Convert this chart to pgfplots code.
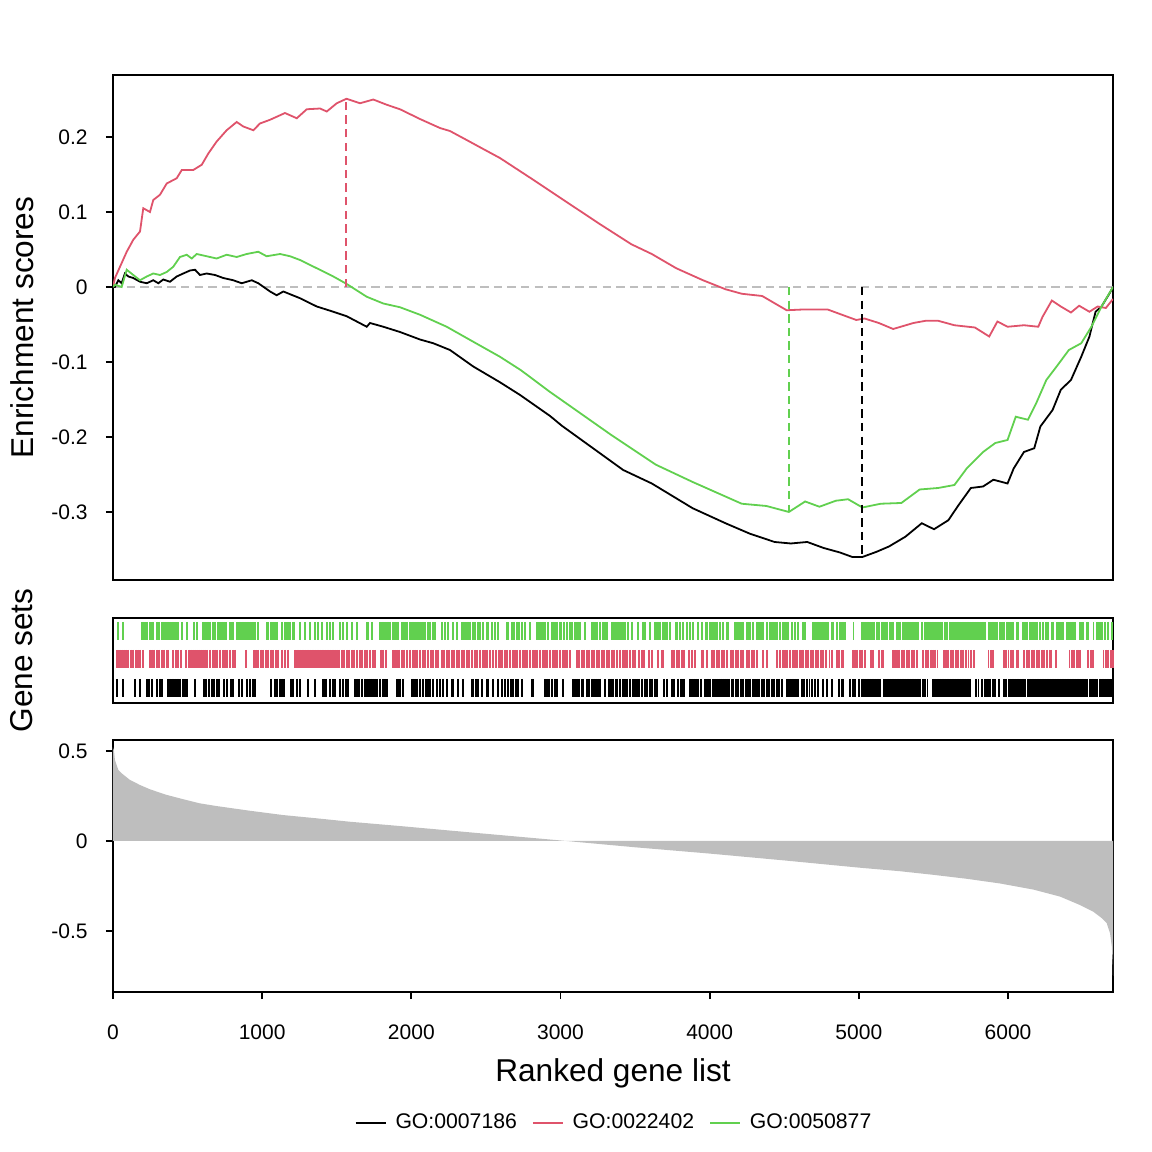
\documentclass[border=0pt]{standalone}
\usepackage{pgfplots}
\pgfplotsset{compat=1.18}
\usepackage{pgfplotstable}
\usepackage{fontspec}
\setmainfont{Liberation Sans}
\definecolor{esred}{HTML}{DF536B}
\definecolor{esgreen}{HTML}{61D04F}
\definecolor{rgrey}{HTML}{BEBEBE}

\newcommand{\ticksize}{\fontsize{10.5bp}{12bp}\selectfont}
\newcommand{\labsize}{\fontsize{15.8bp}{18bp}\selectfont}

\pgfplotsset{
  gsea/.style={
    scale only axis, width=500bp, anchor=south west,
    xmin=0, xmax=6704,
    axis line style={line width=0.85bp},
    tick align=outside, major tick length=3.6bp,
    every tick/.style={black, line width=0.85bp},
    tick pos=left,
    tick label style={font=\ticksize, inner sep=0pt},
    yticklabel style={xshift=-8.9bp},
    xticklabel style={yshift=-12.4bp},
    every axis y label/.style={at={(axis description cs:-0.091,0.5)},
      rotate=90, anchor=center, font=\labsize},
    every axis x label/.style={at={(axis description cs:0.5,0)},
      anchor=north, yshift=-33bp, inner sep=0pt, font=\labsize},
  },
  esline/.style={line width=0.9bp},
  vdash/.style={line width=1bp, dash pattern=on 4.2bp off 2.6bp},
  hits/.style={only marks, mark=|, mark size=4.6bp,
    mark options={line width=0.95bp}},
}

% gene positions (rank) of each set in the ranked list
\pgfplotstableread[row sep=\\]{r\\
36\\65\\192\\199\\215\\226\\248\\259\\271\\297\\311\\326\\338\\349\\360\\371\\382\\393\\405\\416\\427\\438\\460\\494\\498\\543\\561\\601\\617\\628\\639\\650\\668\\684\\706\\717\\729\\744\\758\\784\\796\\807\\829\\847\\852\\863\\874\\885\\896\\907\\919\\930\\941\\952\\974\\
1030\\1042\\1057\\1071\\1086\\1097\\1131\\1153\\1164\\1176\\1187\\1205\\1214\\1254\\1287\\1321\\1354\\1377\\1399\\1433\\1455\\1477\\1522\\1544\\1567\\1600\\1634\\1701\\1712\\1734\\1790\\1801\\1812\\1824\\1835\\1846\\1857\\1875\\1891\\1902\\1913\\1935\\1947\\1958\\1969\\1991\\
2002\\2014\\2025\\2036\\2047\\2058\\2069\\2081\\2092\\2114\\2125\\2148\\2159\\2204\\2226\\2248\\2282\\2304\\2338\\2349\\2360\\2371\\2382\\2394\\2416\\2427\\2449\\2461\\2483\\2505\\2516\\2539\\2561\\2583\\
2639\\2650\\2672\\2688\\2706\\2724\\2739\\2762\\2795\\2840\\2851\\2862\\2873\\2885\\2896\\2918\\2940\\2952\\2963\\2974\\2996\\3007\\3023\\3041\\3063\\3075\\3097\\3108\\3119\\3130\\3164\\3209\\3220\\3231\\3242\\3264\\3287\\3298\\3309\\3343\\3354\\3365\\3376\\3387\\3399\\3410\\3421\\3432\\3454\\3477\\3521\\3555\\3566\\3600\\3633\\3644\\3656\\3667\\3689\\3700\\3711\\3734\\3774\\3783\\3801\\3823\\3845\\3868\\3890\\3924\\3946\\3975\\3984\\
4002\\4013\\4024\\4035\\4047\\4069\\4091\\4114\\4125\\4169\\4181\\4192\\4203\\4214\\4225\\4248\\4259\\4270\\4292\\4315\\4326\\4337\\4348\\4359\\4382\\4404\\4415\\4426\\4438\\4449\\4471\\4494\\4505\\4516\\4527\\4549\\4572\\4594\\
4628\\4640\\4695\\4707\\4718\\4729\\4740\\4751\\4762\\4774\\4785\\4796\\4818\\4829\\4852\\4874\\4885\\4897\\4908\\4964\\5019\\5031\\5042\\5053\\5064\\5075\\5086\\5102\\5120\\5138\\5153\\5165\\5176\\5187\\5209\\5221\\5232\\5254\\5265\\5276\\5299\\5310\\5321\\5332\\5343\\5355\\5366\\5377\\5388\\5399\\5422\\5444\\5455\\5466\\5478\\5489\\5500\\5511\\5522\\5533\\5545\\5556\\5578\\5589\\5612\\5623\\5634\\5645\\5656\\5667\\5679\\5690\\5701\\5712\\5723\\5735\\5746\\5757\\5768\\5779\\5790\\5802\\5813\\5824\\5835\\5846\\5869\\5880\\5891\\5902\\5913\\5924\\5947\\5958\\5974\\5991\\
6003\\6014\\6025\\6036\\6059\\6070\\6103\\6114\\6126\\6148\\6159\\6170\\6181\\6193\\6215\\6237\\6255\\6271\\6293\\6304\\6327\\6338\\6349\\6360\\6371\\6394\\6405\\6416\\6427\\6438\\6450\\6483\\6494\\6506\\6528\\6539\\6573\\6595\\6606\\6617\\6628\\6651\\6673\\6695\\
}\greenhits

\pgfplotstableread[row sep=\\]{r\\
25\\36\\47\\58\\74\\87\\103\\119\\136\\154\\170\\181\\199\\248\\259\\275\\293\\311\\326\\342\\360\\371\\400\\423\\438\\454\\490\\512\\521\\534\\550\\561\\574\\588\\601\\617\\633\\650\\668\\684\\700\\717\\735\\751\\767\\784\\802\\818\\890\\945\\959\\974\\990\\
1008\\1026\\1042\\1057\\1075\\1093\\1109\\1131\\1153\\1176\\1220\\1231\\1243\\1254\\1265\\1276\\1287\\1298\\1310\\1321\\1332\\1343\\1354\\1366\\1377\\1388\\1399\\1410\\1421\\1433\\1444\\1455\\1466\\1477\\1488\\1500\\1518\\1533\\1549\\1567\\1585\\1600\\1616\\1634\\1656\\1672\\1690\\1705\\1723\\1741\\1757\\1795\\1812\\1830\\1875\\1891\\1902\\1920\\1935\\1951\\1969\\1991\\
2009\\2025\\2040\\2058\\2076\\2092\\2114\\2130\\2148\\2166\\2181\\2204\\2219\\2237\\2255\\2271\\2286\\2304\\2322\\2338\\2353\\2371\\2389\\2405\\2427\\2443\\2461\\2478\\2494\\2510\\2528\\2550\\2568\\2586\\
2594\\2610\\2628\\2643\\2661\\2679\\2695\\2710\\2728\\2746\\2762\\2777\\2795\\2813\\2829\\2844\\2862\\2880\\2896\\2911\\2929\\2947\\2963\\2978\\2996\\3014\\3030\\3045\\3063\\3112\\3126\\3142\\3157\\3175\\3193\\3209\\3224\\3242\\3260\\3276\\3291\\3309\\3327\\3343\\3358\\3376\\3399\\3416\\3432\\3448\\3466\\3483\\3499\\3528\\3544\\3559\\3595\\3611\\3656\\3678\\3689\\3745\\3761\\3778\\3796\\3812\\3828\\3863\\3879\\3901\\3946\\3957\\3980\\
4013\\4029\\4047\\4064\\4080\\4096\\4114\\4140\\4158\\4176\\4192\\4208\\4225\\4248\\4266\\4281\\4297\\4315\\4355\\4382\\4453\\4471\\4489\\4505\\4520\\4538\\4556\\4572\\4587\\4605\\
4617\\4628\\4646\\4662\\4678\\4695\\4713\\4729\\4745\\4762\\4780\\4803\\4818\\4856\\4870\\4885\\4897\\4959\\4975\\4990\\5008\\5019\\5042\\5080\\5093\\5138\\5153\\5165\\5227\\5243\\5254\\5272\\5288\\5303\\5321\\5339\\5355\\5370\\5388\\5433\\5451\\5466\\5482\\5495\\5511\\5527\\5571\\5585\\5600\\5616\\5634\\5652\\5667\\5683\\5701\\5719\\5735\\5750\\5772\\5869\\5884\\5898\\5974\\5987\\
6003\\6018\\6036\\6059\\6070\\6108\\6126\\6143\\6159\\6175\\6193\\6210\\6226\\6242\\6260\\6278\\6287\\6322\\6412\\6427\\6443\\6461\\6472\\6483\\6539\\6555\\6568\\6640\\6658\\6673\\6689\\6702\\
}\redhits

\pgfplotstableread[row sep=\\]{r\\
29\\65\\148\\181\\226\\244\\259\\297\\315\\329\\371\\382\\393\\405\\416\\427\\438\\449\\467\\483\\498\\550\\610\\624\\646\\662\\677\\695\\713\\744\\762\\789\\807\\847\\863\\896\\919\\936\\952\\
1057\\1086\\1097\\1120\\1131\\1147\\1191\\1209\\1231\\1254\\1310\\1354\\1406\\1415\\1428\\1455\\1477\\1488\\1522\\1544\\1562\\1578\\1623\\1638\\1652\\1667\\1690\\1701\\1719\\1728\\1741\\1757\\1772\\1790\\1808\\1824\\1835\\1902\\1913\\1924\\1947\\
2002\\2014\\2025\\2040\\2058\\2081\\2099\\2114\\2125\\2148\\2170\\2192\\2215\\2237\\2271\\2282\\2315\\2349\\2405\\2416\\2434\\2449\\2472\\2505\\2516\\2550\\2583\\
2605\\2628\\2650\\2666\\2683\\2701\\2717\\2739\\2806\\2818\\2896\\2911\\2925\\2940\\2963\\2974\\3014\\3081\\3097\\3112\\3126\\3142\\3153\\3175\\3193\\3209\\3224\\3238\\3253\\3264\\3298\\3327\\3336\\3354\\3372\\3381\\3399\\3416\\3432\\3448\\3466\\3483\\3499\\3510\\3528\\3544\\3566\\3577\\3600\\3611\\3633\\3649\\3694\\3711\\3745\\3761\\3790\\3805\\3819\\3828\\3868\\3879\\3895\\3908\\3924\\3939\\3968\\3980\\3991\\
4002\\4020\\4035\\4047\\4064\\4073\\4091\\4102\\4114\\4131\\4147\\4158\\4176\\4192\\4208\\4225\\4243\\4259\\4270\\4292\\4304\\4315\\4333\\4348\\4364\\4382\\4400\\4415\\4431\\4449\\4467\\4482\\4516\\4527\\4538\\4549\\4561\\4572\\4583\\4594\\
4617\\4633\\4651\\4669\\4684\\4707\\4729\\4762\\4785\\4818\\4870\\4885\\4897\\4941\\4959\\4975\\5004\\5019\\5031\\5042\\5053\\5064\\5075\\5086\\5098\\5109\\5120\\5131\\5142\\5165\\5176\\5187\\5198\\5209\\5221\\5232\\5243\\5254\\5265\\5276\\5288\\5299\\5310\\5321\\5332\\5343\\5355\\5366\\5377\\5388\\5399\\5410\\5433\\5444\\5460\\
5500\\5511\\5522\\5533\\5545\\5556\\5567\\5578\\5589\\5600\\5612\\5623\\5634\\5645\\5656\\5667\\5679\\5690\\5701\\5712\\5723\\5735\\5746\\5786\\5802\\5824\\5846\\5857\\5869\\5880\\5902\\5913\\5942\\5974\\5987\\
6003\\6014\\6025\\6036\\6047\\6059\\6070\\6081\\6092\\6103\\6114\\6137\\6148\\6159\\6170\\6181\\6193\\6204\\6215\\6226\\6237\\6248\\6260\\6271\\6282\\6293\\6304\\6315\\6327\\6338\\6349\\6360\\6371\\6383\\6394\\6405\\6416\\6427\\6438\\6450\\6461\\6472\\6483\\6494\\6506\\6517\\6528\\6550\\6561\\6573\\6584\\6595\\6617\\6628\\6640\\6651\\6662\\6673\\6684\\6695\\
}\blackhits

\begin{document}
\begin{tikzpicture}
\path[use as bounding box] (0,0) rectangle (576bp,576bp);

% running enrichment scores
\begin{axis}[gsea, at={(56.5bp,286bp)}, height=252.5bp,
    ymin=-0.3907, ymax=0.2827,
    xtick=\empty,
    ytick={-0.3,-0.2,-0.1,0,0.1,0.2},
    yticklabels={-0.3,-0.2,-0.1,0,0.1,0.2},
    ylabel={Enrichment scores},
    legend columns=3,
    legend cell align=left,
    legend image code/.code={\draw[#1] (0bp,0bp) -- (15bp,0bp);},
    legend style={at={(axis description cs:0.5,-1.0752)}, anchor=center,
      draw=none, fill=none, inner sep=0pt, font=\fontsize{10.6bp}{12bp}\selectfont,
      nodes={inner sep=0pt}, column sep=4.5bp,
      /tikz/every even column/.append style={column sep=7.5bp}},
  ]
  \addplot[rgrey, vdash, forget plot] coordinates {(0,0) (6704,0)};

  \addplot[black, esline] coordinates {
    (0,0) (13,0) (36,0.009) (58,0.005) (80,0.018) (103,0.014) (136,0.012)
    (181,0.007) (226,0.005) (270,0.009) (304,0.005) (337,0.010) (382,0.007)
    (427,0.014) (471,0.018) (516,0.022) (550,0.023) (583,0.016) (628,0.018)
    (684,0.016) (739,0.012) (806,0.009) (863,0.005) (930,0.009) (974,0.005)
    (1053,-0.006) (1097,-0.011) (1142,-0.006) (1254,-0.015) (1366,-0.026)
    (1477,-0.033) (1567,-0.039) (1701,-0.053) (1723,-0.048) (1812,-0.053)
    (1924,-0.060) (2058,-0.070) (2147,-0.075) (2259,-0.084) (2415,-0.106)
    (2594,-0.127) (2729,-0.144) (2930,-0.172) (3009,-0.185) (3420,-0.244)
    (3612,-0.262) (3886,-0.295) (4106,-0.315) (4270,-0.329) (4435,-0.340)
    (4544,-0.342) (4654,-0.340) (4764,-0.348) (4873,-0.354) (4956,-0.360)
    (5024,-0.360) (5120,-0.353) (5202,-0.346) (5312,-0.333) (5422,-0.315)
    (5504,-0.323) (5600,-0.311) (5668,-0.291) (5751,-0.268) (5833,-0.266)
    (5902,-0.257) (5997,-0.262) (6038,-0.242) (6107,-0.220) (6176,-0.215)
    (6217,-0.186) (6299,-0.164) (6354,-0.137) (6422,-0.124) (6491,-0.093)
    (6546,-0.066) (6587,-0.033) (6627,-0.026) (6682,-0.008) (6704,0)};
  \addlegendentry{GO:0007186}

  \addplot[esred, esline] coordinates {
    (0,0) (13,0.012) (47,0.027) (92,0.047) (136,0.063) (181,0.074) (203,0.105)
    (248,0.100) (270,0.116) (315,0.123) (360,0.138) (427,0.145) (461,0.156)
    (538,0.156) (595,0.163) (639,0.178) (695,0.194) (762,0.209) (829,0.220)
    (874,0.214) (941,0.209) (985,0.218) (1053,0.223) (1153,0.232) (1232,0.225)
    (1299,0.237) (1388,0.238) (1433,0.234) (1500,0.245) (1565,0.251)
    (1656,0.245) (1745,0.250) (1835,0.243) (1924,0.237) (2058,0.224)
    (2192,0.212) (2259,0.208) (2371,0.196) (2482,0.184) (2594,0.172)
    (2817,0.143) (3119,0.103) (3255,0.085) (3475,0.057) (3612,0.044)
    (3776,0.025) (3955,0.009) (4106,-0.003) (4215,-0.009) (4352,-0.012)
    (4516,-0.031) (4626,-0.030) (4791,-0.030) (4873,-0.036) (4983,-0.044)
    (5038,-0.042) (5134,-0.048) (5230,-0.056) (5366,-0.048) (5449,-0.045)
    (5531,-0.045) (5641,-0.051) (5778,-0.054) (5874,-0.066) (5929,-0.046)
    (5997,-0.053) (6107,-0.051) (6203,-0.053) (6231,-0.040) (6294,-0.018)
    (6354,-0.026) (6422,-0.034) (6477,-0.025) (6546,-0.033) (6601,-0.026)
    (6656,-0.028) (6704,-0.016)};
  \addlegendentry{GO:0022402}

  \addplot[esgreen, esline] coordinates {
    (0,0) (13,0.003) (58,0.0) (92,0.023) (136,0.016) (181,0.009) (226,0.014)
    (270,0.018) (315,0.016) (360,0.020) (404,0.027) (449,0.040) (494,0.043)
    (528,0.038) (561,0.044) (628,0.041) (695,0.038) (762,0.043) (829,0.040)
    (896,0.044) (974,0.047) (1030,0.041) (1120,0.044) (1187,0.041)
    (1254,0.036) (1366,0.025) (1477,0.014) (1567,0.004) (1701,-0.013)
    (1812,-0.022) (1924,-0.027) (2058,-0.037) (2237,-0.053) (2415,-0.073)
    (2594,-0.093) (2735,-0.111) (2930,-0.140) (3009,-0.151) (3338,-0.197)
    (3640,-0.237) (3886,-0.260) (4215,-0.289) (4380,-0.292) (4531,-0.300)
    (4640,-0.286) (4736,-0.293) (4846,-0.285) (4928,-0.283) (5024,-0.294)
    (5147,-0.289) (5285,-0.288) (5408,-0.270) (5532,-0.268) (5641,-0.264)
    (5723,-0.242) (5833,-0.220) (5915,-0.208) (5997,-0.204) (6052,-0.173)
    (6134,-0.177) (6189,-0.155) (6257,-0.124) (6326,-0.106) (6408,-0.084)
    (6491,-0.075) (6559,-0.053) (6627,-0.026) (6704,0)};
  \addlegendentry{GO:0050877}

  % position of the maximum deviation of each set
  \addplot[esred, vdash, forget plot] coordinates {(1565,0) (1565,0.251)};
  \addplot[esgreen, vdash, forget plot] coordinates {(4531,0) (4531,-0.300)};
  \addplot[black, vdash, forget plot] coordinates {(5024,0) (5024,-0.360)};
\end{axis}

% gene set membership
\begin{axis}[gsea, at={(56.5bp,224.5bp)}, height=42.5bp,
    ymin=0, ymax=85, xtick=\empty, ytick=\empty,
    ylabel={Gene sets}]
  \addplot[esgreen, hits] table[x index=0, y index=0, y expr=72] {\greenhits};
  \addplot[esred, hits] table[x index=0, y index=0, y expr=44] {\redhits};
  \addplot[black, hits] table[x index=0, y index=0, y expr=15] {\blackhits};
\end{axis}

% ranked gene scores
\begin{axis}[gsea, at={(56.5bp,80bp)}, height=126bp,
    ymin=-0.839, ymax=0.561,
    ytick={-0.5,0,0.5}, yticklabels={-0.5,0,0.5},
    xtick={0,1000,2000,3000,4000,5000,6000},
    xticklabels={0,1000,2000,3000,4000,5000,6000},
    xlabel={Ranked gene list}]
  \addplot[fill=rgrey, draw=none] coordinates {
    (0,0) (0,0.52) (7,0.50) (13,0.45) (36,0.394) (58,0.376) (114,0.339)
    (181,0.311) (248,0.287) (360,0.256) (471,0.232) (583,0.209) (695,0.194)
    (918,0.168) (1141,0.144) (1365,0.126) (1588,0.107) (1924,0.083)
    (2500,0.040) (3000,0.003) (3500,-0.035) (4000,-0.070) (4500,-0.108)
    (5000,-0.148) (5276,-0.168) (5499,-0.188) (5723,-0.210) (5946,-0.236)
    (6170,-0.270) (6349,-0.309) (6483,-0.356) (6572,-0.393) (6629,-0.429)
    (6662,-0.457) (6684,-0.513) (6696,-0.587) (6702,-0.679) (6704,-0.75)
    (6704,0)} -- cycle;
\end{axis}
\end{tikzpicture}
\end{document}
